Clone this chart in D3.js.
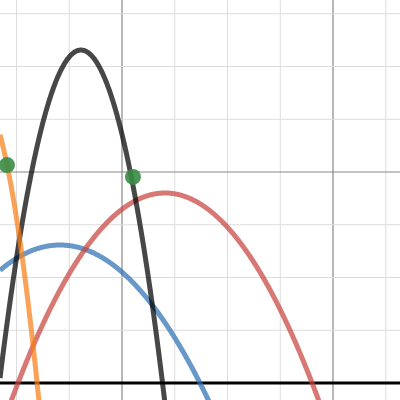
<!DOCTYPE html>
<html><head><meta charset="utf-8">
<script src="https://cdn.jsdelivr.net/npm/d3@7"></script>
<style>body{margin:0;background:#fff}</style></head>
<body><svg id="c" width="400" height="400"></svg>
<script>
// Parabolas y = k - a (x - h)^2 in graph units
const curveNames = ["blue", "red", "black", "orange"];
const curveColors = ["#2d70b3", "#c74440", "#000000", "#fa7e19"];
const curveH = [1.412, 2.408, 1.611, 0.621];
const curveK = [1.308, 1.801, 3.156, 2.77];
const curveA = [0.743, 0.927, 5.28, 8.4];
const pointX = [0.910, 2.104];
const pointY = [2.066, 1.953];
const xDomain = [2 - 122/105.5, 2 + 278/105.5];
const yDomain = [(383-400)/105.5, 383/105.5];

const svg = d3.select("#c");
const x = d3.scaleLinear().domain(xDomain).range([0, 400]);
const y = d3.scaleLinear().domain(yDomain).range([400, 0]);

const minor = d3.range(Math.ceil(xDomain[0]*2)/2, xDomain[1], 0.5);
const minorY = d3.range(0, yDomain[1], 0.5);
svg.selectAll(".vx").data(minor).join("line")
  .attr("x1", d=>x(d)).attr("x2", d=>x(d)).attr("y1",0).attr("y2",400)
  .attr("stroke", d=>Math.abs(d%2)<1e-6 ? "#888" : "#ddd").attr("stroke-width", d=>Math.abs(d%2)<1e-6?1.2:1);
svg.selectAll(".hy").data(minorY).join("line")
  .attr("y1", d=>y(d)).attr("y2", d=>y(d)).attr("x1",0).attr("x2",400)
  .attr("stroke", d=>d===0 ? "#000" : (Math.abs(d%2)<1e-6 ? "#888" : "#ddd"))
  .attr("stroke-width", d=>d===0?3:(Math.abs(d%2)<1e-6?1.2:1));

const line = d3.line().x(d=>x(d[0])).y(d=>y(d[1]));
curveNames.forEach((n,i)=>{
  const pts = d3.range(xDomain[0], xDomain[1], 0.005).map(t=>[t, curveK[i]-curveA[i]*(t-curveH[i])**2]).filter(p=>p[1]>yDomain[0]-1);
  svg.append("path").attr("d", line(pts)).attr("fill","none")
    .attr("stroke", curveColors[i]).attr("stroke-opacity", i===2?0.72:0.72).attr("stroke-width", 5);
});
svg.selectAll(".pt").data(pointX).join("circle")
  .attr("cx", d=>x(d)).attr("cy", (d,i)=>y(pointY[i])).attr("r", 8)
  .attr("fill", "#388c46").attr("fill-opacity", 0.9);
</script></body></html>
